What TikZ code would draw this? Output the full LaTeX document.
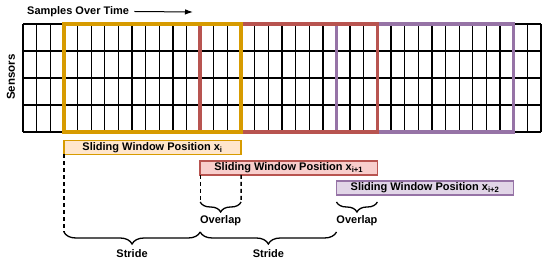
\documentclass[tikz,border=0pt]{standalone}
\usepackage{fontspec}
\setmainfont{Liberation Sans}
\usepackage{tikz}
\usetikzlibrary{arrows.meta,positioning,decorations.pathreplacing}
\definecolor{WinOrange}{HTML}{D79B00}
\definecolor{WinOrangeFill}{HTML}{FFE6CC}
\definecolor{WinRed}{HTML}{B85450}
\definecolor{WinRedFill}{HTML}{F8CECC}
\definecolor{WinPurple}{HTML}{9673A6}
\definecolor{WinPurpleFill}{HTML}{E1D5E7}

\begin{document}
\begin{tikzpicture}[x=1pt, y=-1pt, >=Latex,
    cell/.style={draw=black, line width=1.3pt},
    window/.style={rectangle, line width=3.5pt, minimum width=177.2pt, minimum height=108pt, inner sep=0pt, outer sep=0pt, anchor=north west},
    winlabel/.style={rectangle, line width=1.5pt, minimum width=177.2pt, minimum height=14pt, inner sep=0pt, outer sep=0pt, anchor=north west, font=\fontsize{11}{13}\selectfont\bfseries},
    caption/.style={font=\fontsize{11}{13}\selectfont\bfseries, inner sep=1pt},
    spanbrace/.style={decorate, decoration={brace, mirror, amplitude=#1}, line width=1.3pt},
    gap/.style={line width=1.3pt, dash pattern=on 4pt off 3pt}]

    \useasboundingbox (0,0) rectangle (550,264);

    % sensor grid
    \foreach \i in {0,...,38} \draw [cell] ({23+13.63*\i},24) -- ({23+13.63*\i},132);
    \foreach \j in {0,...,4} \draw [cell] (23,{24+27*\j}) -- (541,{24+27*\j});

    \node [caption, anchor=west] (title) at (26,11.5) {Samples Over Time};
    \coordinate (arrowtip) at (193,12);
    \draw [-{Latex[length=8pt,width=5.5pt]}, line width=1pt] ([xshift=4pt]title.east) -- (arrowtip);
    \node [caption, rotate=90, font=\fontsize{11.5}{13}\selectfont\bfseries] (sensors) at (11,77) {Sensors};

    % windows
    \node [window, draw=WinPurple] (win3) at (336.5,24) {};
    \node [window, draw=WinRed] (win2) at (200.2,24) {};
    \node [window, draw=WinOrange] (win1) at (63.9,24) {};

    \node [winlabel, draw=WinOrange, fill=WinOrangeFill] (pos1) at (63.9,140.5) {Sliding Window Position x\textsubscript{i}};
    \node [winlabel, draw=WinRed, fill=WinRedFill] (pos2) at (200.2,161) {Sliding Window Position x\textsubscript{i+1}};
    \node [winlabel, draw=WinPurple, fill=WinPurpleFill] (pos3) at (336.5,181) {Sliding Window Position x\textsubscript{i+2}};

    \coordinate (s0) at (63.9,232);
    \coordinate (s1) at (200.2,232);
    \coordinate (s2) at (336.5,232);
    \coordinate (o1a) at (200.2,202);
    \coordinate (o1b) at (241.1,202);
    \coordinate (o2a) at (336.5,202);
    \coordinate (o2b) at (377.4,202);

    \draw [gap] (pos1.south west) -- (s0);
    \draw [gap] (pos2.south west) -- (o1a);
    \draw [gap] (pos1.south east |- pos2.south) -- (o1b);

    \draw [spanbrace=10pt] (o1a) -- (o1b) node [caption, midway, below=12pt] (overlap1) {Overlap};
    \draw [spanbrace=10pt] (o2a) -- (o2b) node [caption, midway, below=12pt] (overlap2) {Overlap};
    \draw [spanbrace=12pt] (s0) -- (s1) node [caption, midway, below=16pt] (stride1) {Stride};
    \draw [spanbrace=12pt] (s1) -- (s2) node [caption, midway, below=16pt] (stride2) {Stride};
\end{tikzpicture}
\end{document}
